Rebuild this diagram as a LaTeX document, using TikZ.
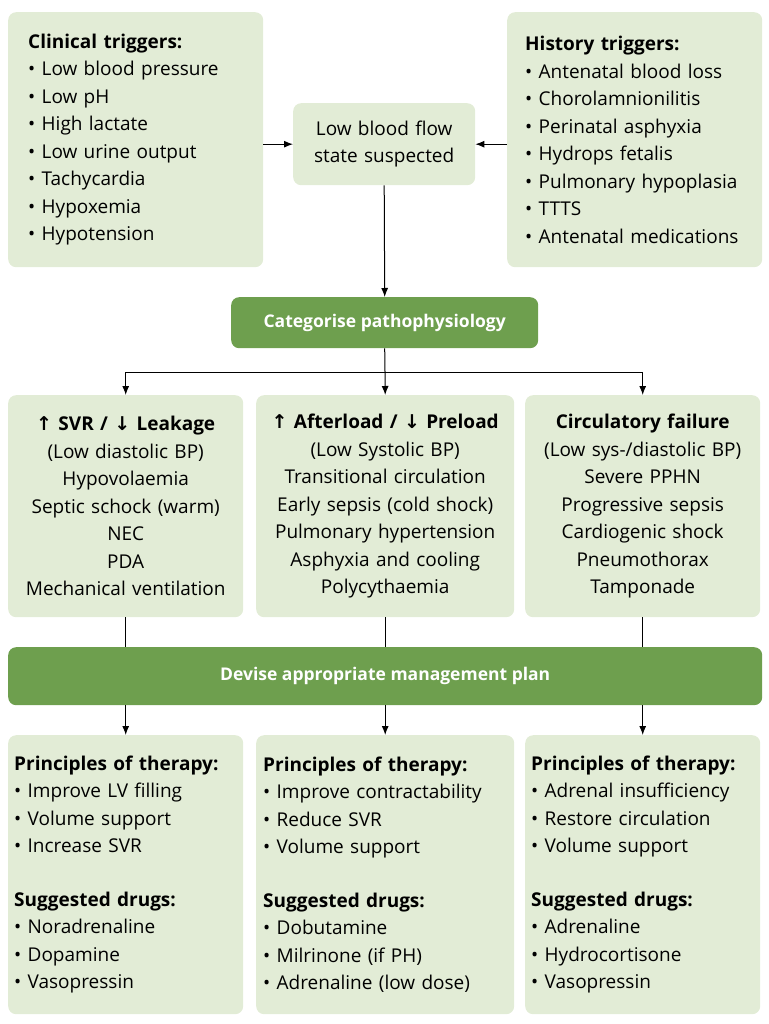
\documentclass[tikz,border=0pt]{standalone}
\usepackage{fontspec}
\setmainfont{Open Sans}
\newfontfamily\symfont{DejaVu Sans}
\usetikzlibrary{positioning,arrows.meta}
\definecolor{boxgreen}{HTML}{E2ECD6}
\definecolor{bargreen}{HTML}{6E9F4E}
\tikzset{
  panel/.style={fill=boxgreen, rounded corners=8pt, inner sep=0pt, anchor=north west,
    font=\fontsize{19}{27.5}\selectfont},
  bar/.style={fill=bargreen, rounded corners=8pt, text=white, anchor=north west,
    font=\fontsize{17.5}{20}\selectfont\bfseries},
  link/.style={-{Latex[length=9pt,width=7pt]}, line width=1pt},
  plain/.style={line width=1pt}
}
\newcommand{\up}{{\symfont ↑}}
\newcommand{\down}{{\symfont ↓}}
\begin{document}
\begin{tikzpicture}[x=1pt,y=-1pt]
\useasboundingbox (0,0) rectangle (768,1024);
% triggers
\node[panel, minimum width=255pt, minimum height=255pt, text width=215pt, align=left] (clin) at (8,12)
  {\textbf{Clinical triggers:}\\• Low blood pressure\\• Low pH\\• High lactate\\• Low urine output\\• Tachycardia\\• Hypoxemia\\• Hypotension};
\node[panel, minimum width=255pt, minimum height=255pt, text width=219pt, align=left] (hist) at (507,12)
  {\textbf{History triggers:}\\• Antenatal blood loss\\• Chorolamnionilitis\\• Perinatal asphyxia\\• Hydrops fetalis\\• Pulmonary hypoplasia\\• TTTS\\• Antenatal medications};
\node[panel, minimum width=182pt, minimum height=82pt, text width=170pt, align=center] (flow) at (293,103)
  {Low blood flow\\state suspected};
\node[bar, minimum width=307pt, minimum height=51pt] (cat) at (231,297) {Categorise pathophysiology};
% categories
\node[panel, minimum width=235pt, minimum height=222pt, text width=229pt, align=center] (svr) at (8,395)
  {\textbf{\up\ SVR / \down\ Leakage}\\(Low diastolic BP)\\Hypovolaemia\\Septic schock (warm)\\NEC\\PDA\\Mechanical ventilation};
\node[panel, minimum width=258pt, minimum height=222pt, text width=252pt, align=center] (aft) at (256,395)
  {\textbf{\up\ Afterload / \down\ Preload}\\(Low Systolic BP)\\Transitional circulation\\Early sepsis (cold shock)\\Pulmonary hypertension\\Asphyxia and cooling\\Polycythaemia};
\node[panel, minimum width=235pt, minimum height=222pt, text width=229pt, align=center] (circ) at (525,395)
  {\textbf{Circulatory failure}\\(Low sys-/diastolic BP)\\Severe PPHN\\Progressive sepsis\\Cardiogenic shock\\Pneumothorax\\Tamponade};
\node[bar, minimum width=754pt, minimum height=58pt] (plan) at (8,647) {Devise appropriate management plan};
% therapy
\node[panel, minimum width=235pt, minimum height=279pt, text width=223pt, align=left] (thA) at (8,735)
  {\textbf{Principles of therapy:}\\• Improve LV filling\\• Volume support\\• Increase SVR\\[26pt]\textbf{Suggested drugs:}\\• Noradrenaline\\• Dopamine\\• Vasopressin};
\node[panel, minimum width=258pt, minimum height=279pt, text width=244pt, align=left] (thB) at (256,735)
  {\textbf{Principles of therapy:}\\• Improve contractability\\• Reduce SVR\\• Volume support\\[26pt]\textbf{Suggested drugs:}\\• Dobutamine\\• Milrinone (if PH)\\• Adrenaline (low dose)};
\node[panel, minimum width=235pt, minimum height=279pt, text width=223pt, align=left] (thC) at (525,735)
  {\textbf{Principles of therapy:}\\• Adrenal insufficiency\\• Restore circulation\\• Volume support\\[26pt]\textbf{Suggested drugs:}\\• Adrenaline\\• Hydrocortisone\\• Vasopressin};
% connectors
\coordinate (fork) at (385,372);
\draw[link] (clin.east |- flow.west) -- (flow.west);
\draw[link] (hist.west |- flow.east) -- (flow.east);
\draw[link] (flow.south) -- (cat.north);
\draw[plain] (cat.south) -- (fork);
\draw[plain] (svr.north |- fork) -- (circ.north |- fork);
\draw[link] (svr.north |- fork) -- (svr.north);
\draw[link] (fork) -- (aft.north);
\draw[link] (circ.north |- fork) -- (circ.north);
\foreach \n/\m in {svr/thA, aft/thB, circ/thC} {
  \draw[plain] (\n.south) -- (\n.south |- plan.north);
  \draw[link] (\m.north |- plan.south) -- (\m.north);
}
\end{tikzpicture}
\end{document}
